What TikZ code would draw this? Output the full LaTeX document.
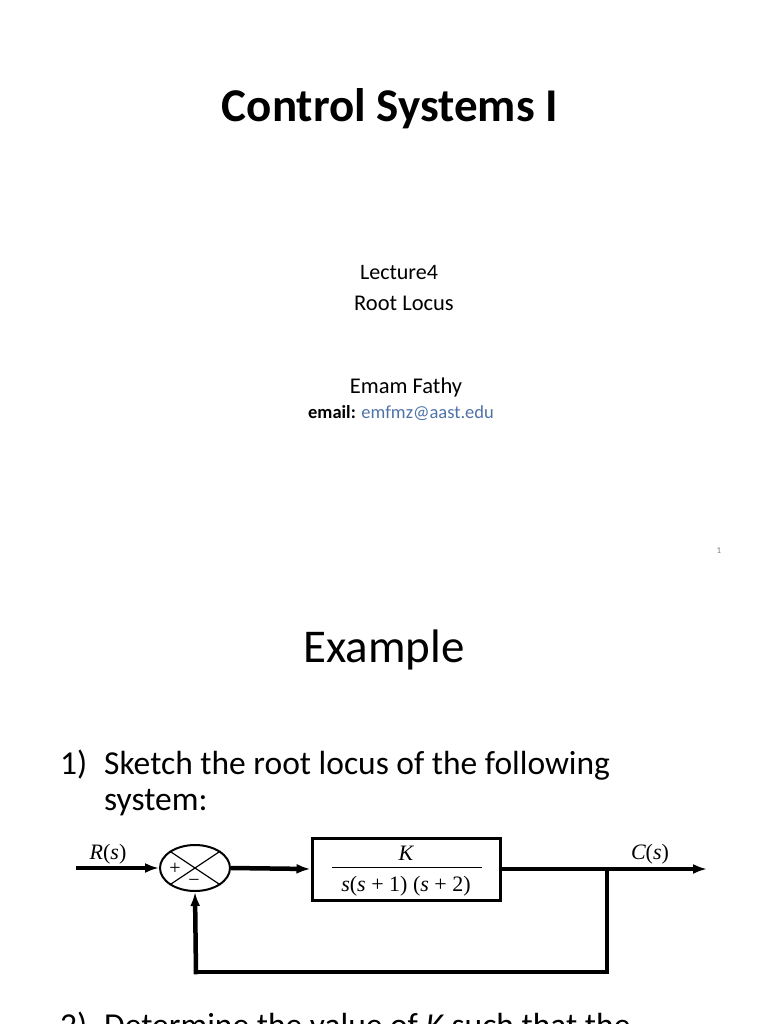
\documentclass[tikz,border=0pt]{standalone}
\usepackage{fontspec}
\setmainfont{Carlito}
\newfontfamily\tms{Liberation Serif}
\usetikzlibrary{arrows.meta,shapes.geometric}
\begin{document}
\begin{tikzpicture}[x=1pt,y=-1pt,
  fl/.style={line width=4.5pt},
  ar/.style={fl,-{Latex[length=14pt,width=10pt]}},
  txt/.style={inner sep=0pt,anchor=base},
  body/.style={txt,anchor=base west,font=\fontsize{33.5}{40}\selectfont}]
\useasboundingbox (0,0) rectangle (768,1024);
\clip (0,0) rectangle (768,1024);
\node[txt] (title) at (390,122) {\fontsize{47}{54}\selectfont\bfseries Control Systems I};
\node[txt] (lec) at (399,279) {\fontsize{22}{26}\selectfont Lecture4};
\node[txt] (rl) at (404,310) {\fontsize{22.5}{26}\selectfont Root Locus};
\node[txt] (name) at (406,393) {\fontsize{22.5}{26}\selectfont Emam Fathy};
\node[txt] (mail) at (401,418) {\fontsize{18.5}{21}\selectfont\bfseries email: \mdseries\color[HTML]{4F72A8}emfmz@aast.edu};
\node[txt] (pg) at (719,553) {\fontsize{9}{10}\selectfont\color{gray}1};
\node[txt] (ex) at (384,662) {\fontsize{47}{54}\selectfont Example};
\node[body] (n1) at (60,774) {1)};
\node[body] (q1) at (104,774) {Sketch the root locus of the following};
\node[body] (q1b) at (104,810) {system:};
\node[body] (n2) at (60,1036) {2)};
\node[body] (q2) at (104,1036) {Determine the value of \textit{K} such that the};
% block diagram
\coordinate (in) at (76,868);
\node[ellipse,draw,line width=2pt,minimum width=70pt,minimum height=46pt,inner sep=0pt] (sum) at (195,868) {};
\draw[line width=1.2pt] (sum.north west) -- (sum.south east) (sum.north east) -- (sum.south west);
\node[font=\tms\fontsize{20}{22}\selectfont,inner sep=0pt] (plus) at (175,869) {+};
\node[font=\tms\fontsize{20}{22}\selectfont,inner sep=0pt] (minus) at (194,883) {\textminus};
\node[draw,line width=3pt,minimum width=188pt,minimum height=62pt] (G) at (406,869) {};
\node[txt] (num) at (406,860) {\tms\fontsize{22}{24}\selectfont\itshape K};
\draw[line width=1pt] (332,867) -- (482,867);
\node[txt] (den) at (406,891) {\tms\fontsize{22}{24}\selectfont\itshape s\upshape(\itshape s \upshape+ 1) (\itshape s \upshape+ 2)};
\node[txt] (R) at (108,859) {\tms\fontsize{22}{24}\selectfont\itshape R\upshape(\itshape s\upshape)};
\node[txt] (C) at (650,859) {\tms\fontsize{22}{24}\selectfont\itshape C\upshape(\itshape s\upshape)};
\coordinate (out) at (707,869);
\coordinate (br) at (607,869);
\coordinate (bl) at (607,972);
\coordinate (br2) at (196,972);
\draw[ar] (in) -- (sum.west);
\draw[ar] (sum.east) -- (G.west);
\draw[ar] (G.east) -- (out);
\draw[fl] (br) -- (bl) -- (br2);
\draw[ar] ([yshift=-2.25pt]br2) -- (sum.south);
\end{tikzpicture}
\end{document}
